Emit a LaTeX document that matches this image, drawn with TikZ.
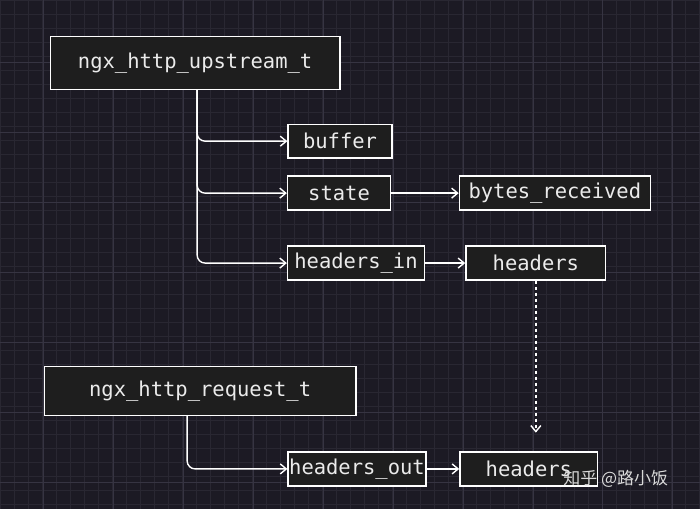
\documentclass[tikz,border=0pt]{standalone}
\usepackage{fontspec}
\setmonofont{DejaVu Sans Mono}
\newfontfamily\cjk{Noto Sans CJK SC}
\usetikzlibrary{positioning, arrows.meta}
\definecolor{bgcol}{HTML}{1C1A24}
\definecolor{gridcol}{HTML}{292732}
\definecolor{majcol}{HTML}{363442}
\definecolor{boxcol}{HTML}{1E1E1E}
\tikzset{
  field/.style={draw=white, line width=1.4pt, fill=boxcol, minimum height=34pt,
    inner sep=0pt, font=\fontsize{20.5}{24}\selectfont\ttfamily, text=white!92!black},
  arrow/.style={draw=white, line width=1.4pt, -{Straight Barb[length=6pt,width=10pt]}, rounded corners=8pt}
}
\begin{document}
\begin{tikzpicture}[x=1pt,y=-1pt]
  \fill[bgcol] (0,0) rectangle (700,509);
  \draw[gridcol, line width=0.5pt] (0,0) grid[step=14pt] (700,509);
  \foreach \i in {43,113,...,700} \draw[majcol, line width=0.6pt] (\i,0) -- (\i,509);
  \foreach \j in {62,132,...,509} \draw[majcol, line width=0.6pt] (0,\j) -- (700,\j);
  \useasboundingbox (0,0) rectangle (700,509);
  % structures
  \node[field, minimum width=290pt, minimum height=53pt] (up) at (195,63) {ngx\_http\_upstream\_t};
  \node[field, minimum width=312pt, minimum height=49pt] (req) at (200,391) {ngx\_http\_request\_t};
  % fields
  \node[field, minimum width=104pt] (buffer) at (340,141) {buffer};
  \node[field, minimum width=103pt] (state) at (339,193) {state};
  \node[field, minimum width=191pt] (bytes) at (555,193) {bytes\_received};
  \node[field, minimum width=137pt] (hin) at (356,263) {headers\_in};
  \node[field, minimum width=140pt] (hdr1) at (536,263) {headers};
  \node[field, minimum width=138pt] (hout) at (357,469) {headers\_out};
  \node[field, minimum width=138pt] (hdr2) at (529,469) {headers};
  % connectors
  \coordinate (trunk) at (197,90);
  \draw[arrow] (trunk) |- (buffer.west);
  \draw[arrow] (trunk) |- (state.west);
  \draw[arrow] (trunk) |- (hin.west);
  \draw[arrow] (state) -- (bytes);
  \draw[arrow] (hin) -- (hdr1);
  \draw[arrow, dashed, rounded corners=0pt] (hdr1.south) -- ++(0,152);
  \draw[arrow] (req.south -| 187,0) |- (hout.west);
  \draw[arrow] (hout) -- (hdr2);
  \node[font=\cjk\fontsize{17}{20}\selectfont, text=white!85!black] (mark) at (616,479) {知乎 @路小饭};
\end{tikzpicture}
\end{document}
